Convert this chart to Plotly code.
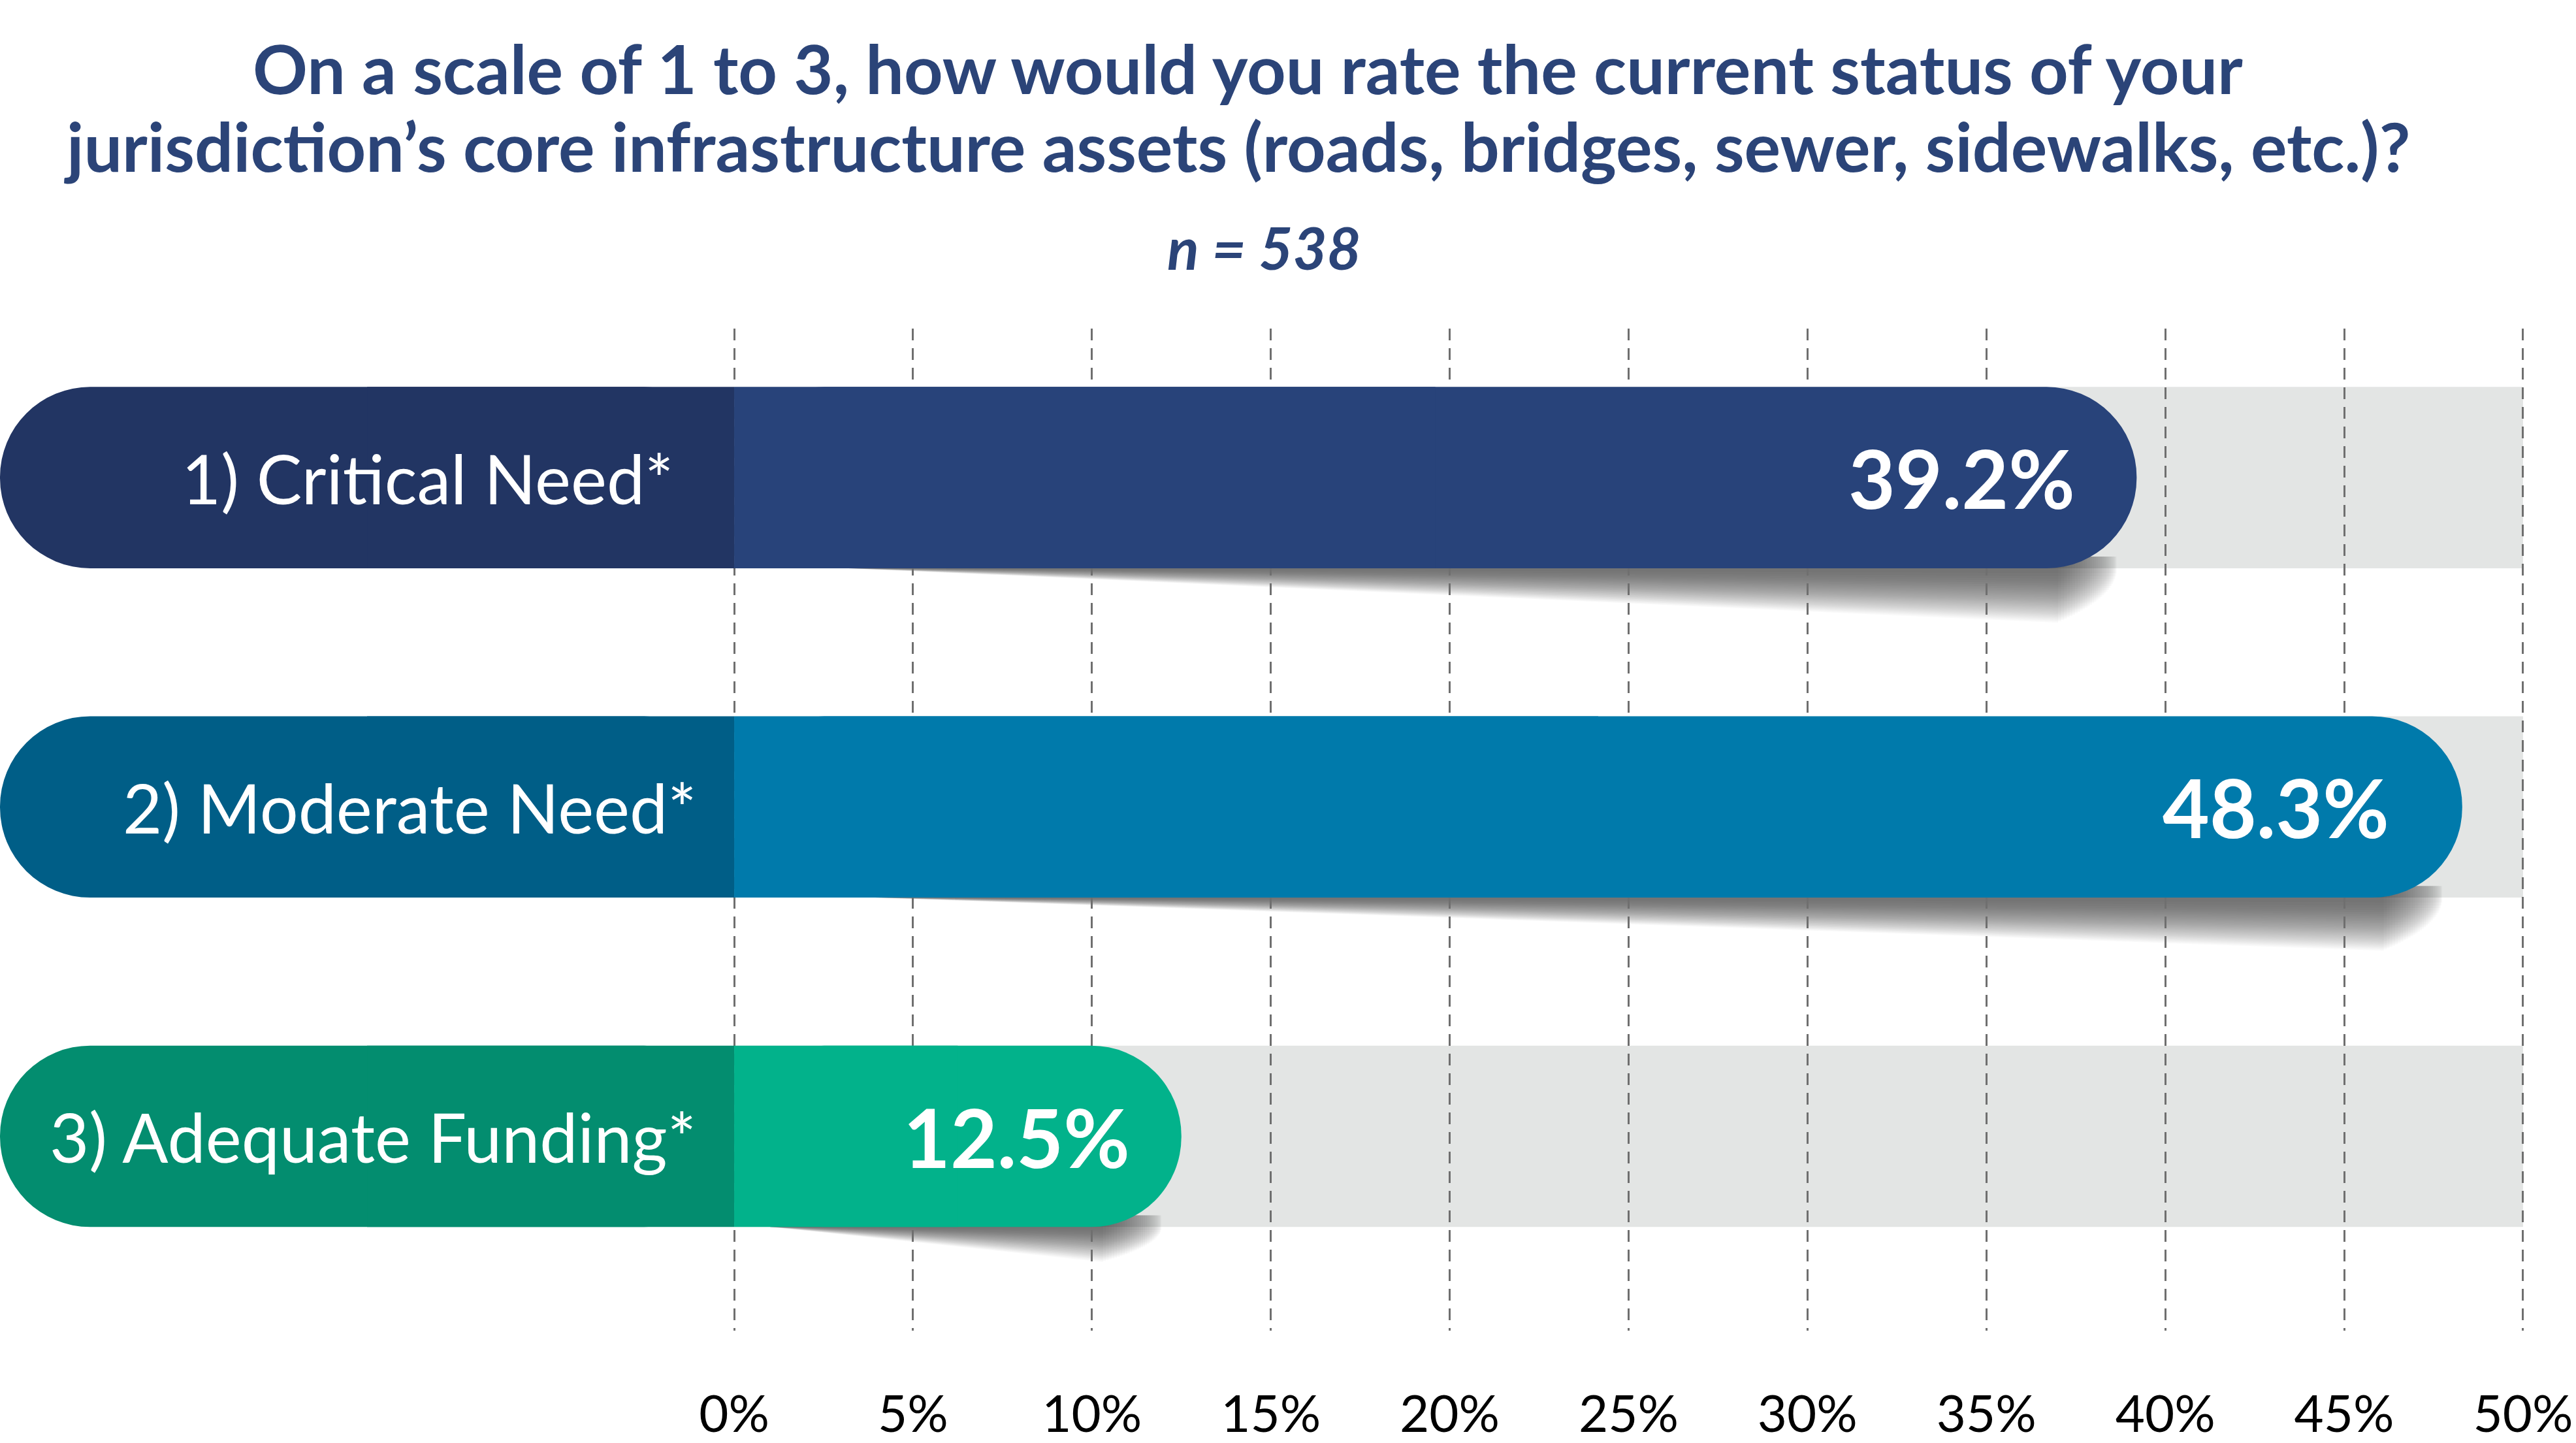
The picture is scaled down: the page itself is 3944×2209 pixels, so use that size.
import plotly.graph_objects as go

# ---------------- data ----------------
categories = ["1) Critical Need*", "2) Moderate Need*", "3) Adequate Funding*"]
values = [39.2, 48.3, 12.5]
value_labels = ["39.2%", "48.3%", "12.5%"]
tick_values = [0, 5, 10, 15, 20, 25, 30, 35, 40, 45, 50]
tick_labels = ["0%", "5%", "10%", "15%", "20%", "25%", "30%", "35%", "40%", "45%", "50%"]
title_line1 = "On a scale of 1 to 3, how would you rate the current status of your"
title_line2 = "jurisdiction\u2019s core infrastructure assets (roads, bridges, sewer, sidewalks, etc.)?"
subtitle = "n = 538"

# ---------------- style ----------------
W, H = 3944, 2209
MT, MB = 503, 159
label_colors = ["#223563", "#005e87", "#038d6f"]
bar_colors = ["#28437a", "#007aab", "#02b28b"]
track_color = "#e3e5e4"
title_color = "#2b4478"
FONT = "Lato"
label_xshift = [-91, -56, -56]
value_xshift = [-92, -110, -77]
shadow_depth_px = [84, 82, 54]

X_MIN, X_MAX = -20.52, 51.48          # axis range (0% at 1124px, 50% at 3863px)
XPX = W / (X_MAX - X_MIN)              # px per percent
Y_RANGE = [2.590, -0.4523]             # reversed numeric y axis
YPX = (H - MT - MB) / (Y_RANGE[0] - Y_RANGE[1])
BAR_W = 280 / YPX
ypos = list(range(len(categories)))
n = len(ypos)


def py_to_paper(py):
    return (H - MB - py) / (H - MT - MB)


fig = go.Figure()

# label pills (left, darker): rounded pill + square cover for the right end
fig.add_trace(go.Bar(
    y=ypos, x=[X_MIN] * n, base=0, orientation="h", width=BAR_W,
    marker=dict(color=label_colors, line=dict(width=0), cornerradius="50%"),
    hoverinfo="skip", showlegend=False,
))
fig.add_trace(go.Bar(
    y=ypos, x=[-X_MIN / 2] * n, base=[X_MIN / 2] * n, orientation="h", width=BAR_W,
    marker=dict(color=label_colors, line=dict(width=0)),
    hoverinfo="skip", showlegend=False,
))
# value bars: rounded bar + square cover for the left (base) end
fig.add_trace(go.Bar(
    y=ypos, x=values, base=0, orientation="h", width=BAR_W,
    marker=dict(color=bar_colors, line=dict(width=0), cornerradius="50%"),
    hoverinfo="skip", showlegend=False,
))
fig.add_trace(go.Bar(
    y=ypos, x=[v / 2 for v in values], base=0, orientation="h", width=BAR_W,
    marker=dict(color=bar_colors, line=dict(width=0)),
    hoverinfo="skip", showlegend=False,
))

shapes = []
# grey track behind bars (below gridlines)
for i in ypos:
    shapes.append(dict(type="rect", xref="x", yref="y", layer="below",
                       x0=0, x1=50, y0=i - BAR_W / 2, y1=i + BAR_W / 2,
                       fillcolor=track_color, line=dict(width=0)))

# soft shadows under bars (layered translucent wedges -> gradient)
N_LAY = 30
for i, v in enumerate(values):
    yb = ypos[i] + BAR_W / 2
    xs = v * 0.08
    xe = v - 30 / XPX
    Hs = shadow_depth_px[i] / YPX
    up = 18 / YPX
    for k in range(N_LAY):
        f = (k + 1) / N_LAY
        xek = xe - (f ** 1.5) * 90 / XPX
        hk = Hs * f ** 0.7
        path = (f"M {xs},{yb - up} L {xek},{yb - up} "
                f"L {xek},{yb + hk} L {xs},{yb} Z")
        shapes.append(dict(type="path", xref="x", yref="y", layer="below",
                           path=path, fillcolor="rgba(0,0,0,0.025)",
                           line=dict(width=0)))

annotations = []
for i, (c, lab, v) in enumerate(zip(categories, value_labels, values)):
    annotations.append(dict(x=0, y=ypos[i], xref="x", yref="y", text=c,
                            xanchor="right", yanchor="middle", xshift=label_xshift[i],
                            showarrow=False,
                            font=dict(family=FONT, size=104, color="white")))
    annotations.append(dict(x=v, y=ypos[i], xref="x", yref="y", text=lab,
                            xanchor="right", yanchor="middle", xshift=value_xshift[i],
                            showarrow=False,
                            font=dict(family=FONT, size=124, color="white", weight=700)))

annotations.append(dict(x=1910 / W, y=py_to_paper(100), xref="paper", yref="paper",
                        text=title_line1, showarrow=False, xanchor="center", yanchor="middle",
                        font=dict(family=FONT, size=104, color=title_color, weight=700)))
annotations.append(dict(x=1894 / W, y=py_to_paper(220), xref="paper", yref="paper",
                        text=title_line2, showarrow=False, xanchor="center", yanchor="middle",
                        font=dict(family=FONT, size=104, color=title_color, weight=700)))
annotations.append(dict(x=1935 / W, y=py_to_paper(377), xref="paper", yref="paper",
                        text=subtitle, showarrow=False, xanchor="center", yanchor="middle",
                        font=dict(family=FONT, size=90, color=title_color, weight=700,
                                  style="italic")))

fig.update_layout(
    width=W, height=H,
    margin=dict(l=0, r=0, t=MT, b=MB, pad=0),
    paper_bgcolor="white", plot_bgcolor="white",
    barmode="overlay",
    shapes=shapes, annotations=annotations,
    showlegend=False,
    xaxis=dict(range=[X_MIN, X_MAX], tickvals=tick_values, ticktext=tick_labels,
               showgrid=True, gridcolor="#6f6f6f", gridwidth=3, griddash="18px,12px",
               zeroline=False, showline=False,
               ticks="outside", ticklen=60, tickcolor="rgba(0,0,0,0)",
               tickfont=dict(family=FONT, size=78, color="black"),
               fixedrange=True),
    yaxis=dict(range=Y_RANGE, visible=False, showgrid=False, zeroline=False,
               fixedrange=True),
)

fig.write_html("out.html", config={"displayModeBar": False},
               post_script="document.body.style.margin='0';")
